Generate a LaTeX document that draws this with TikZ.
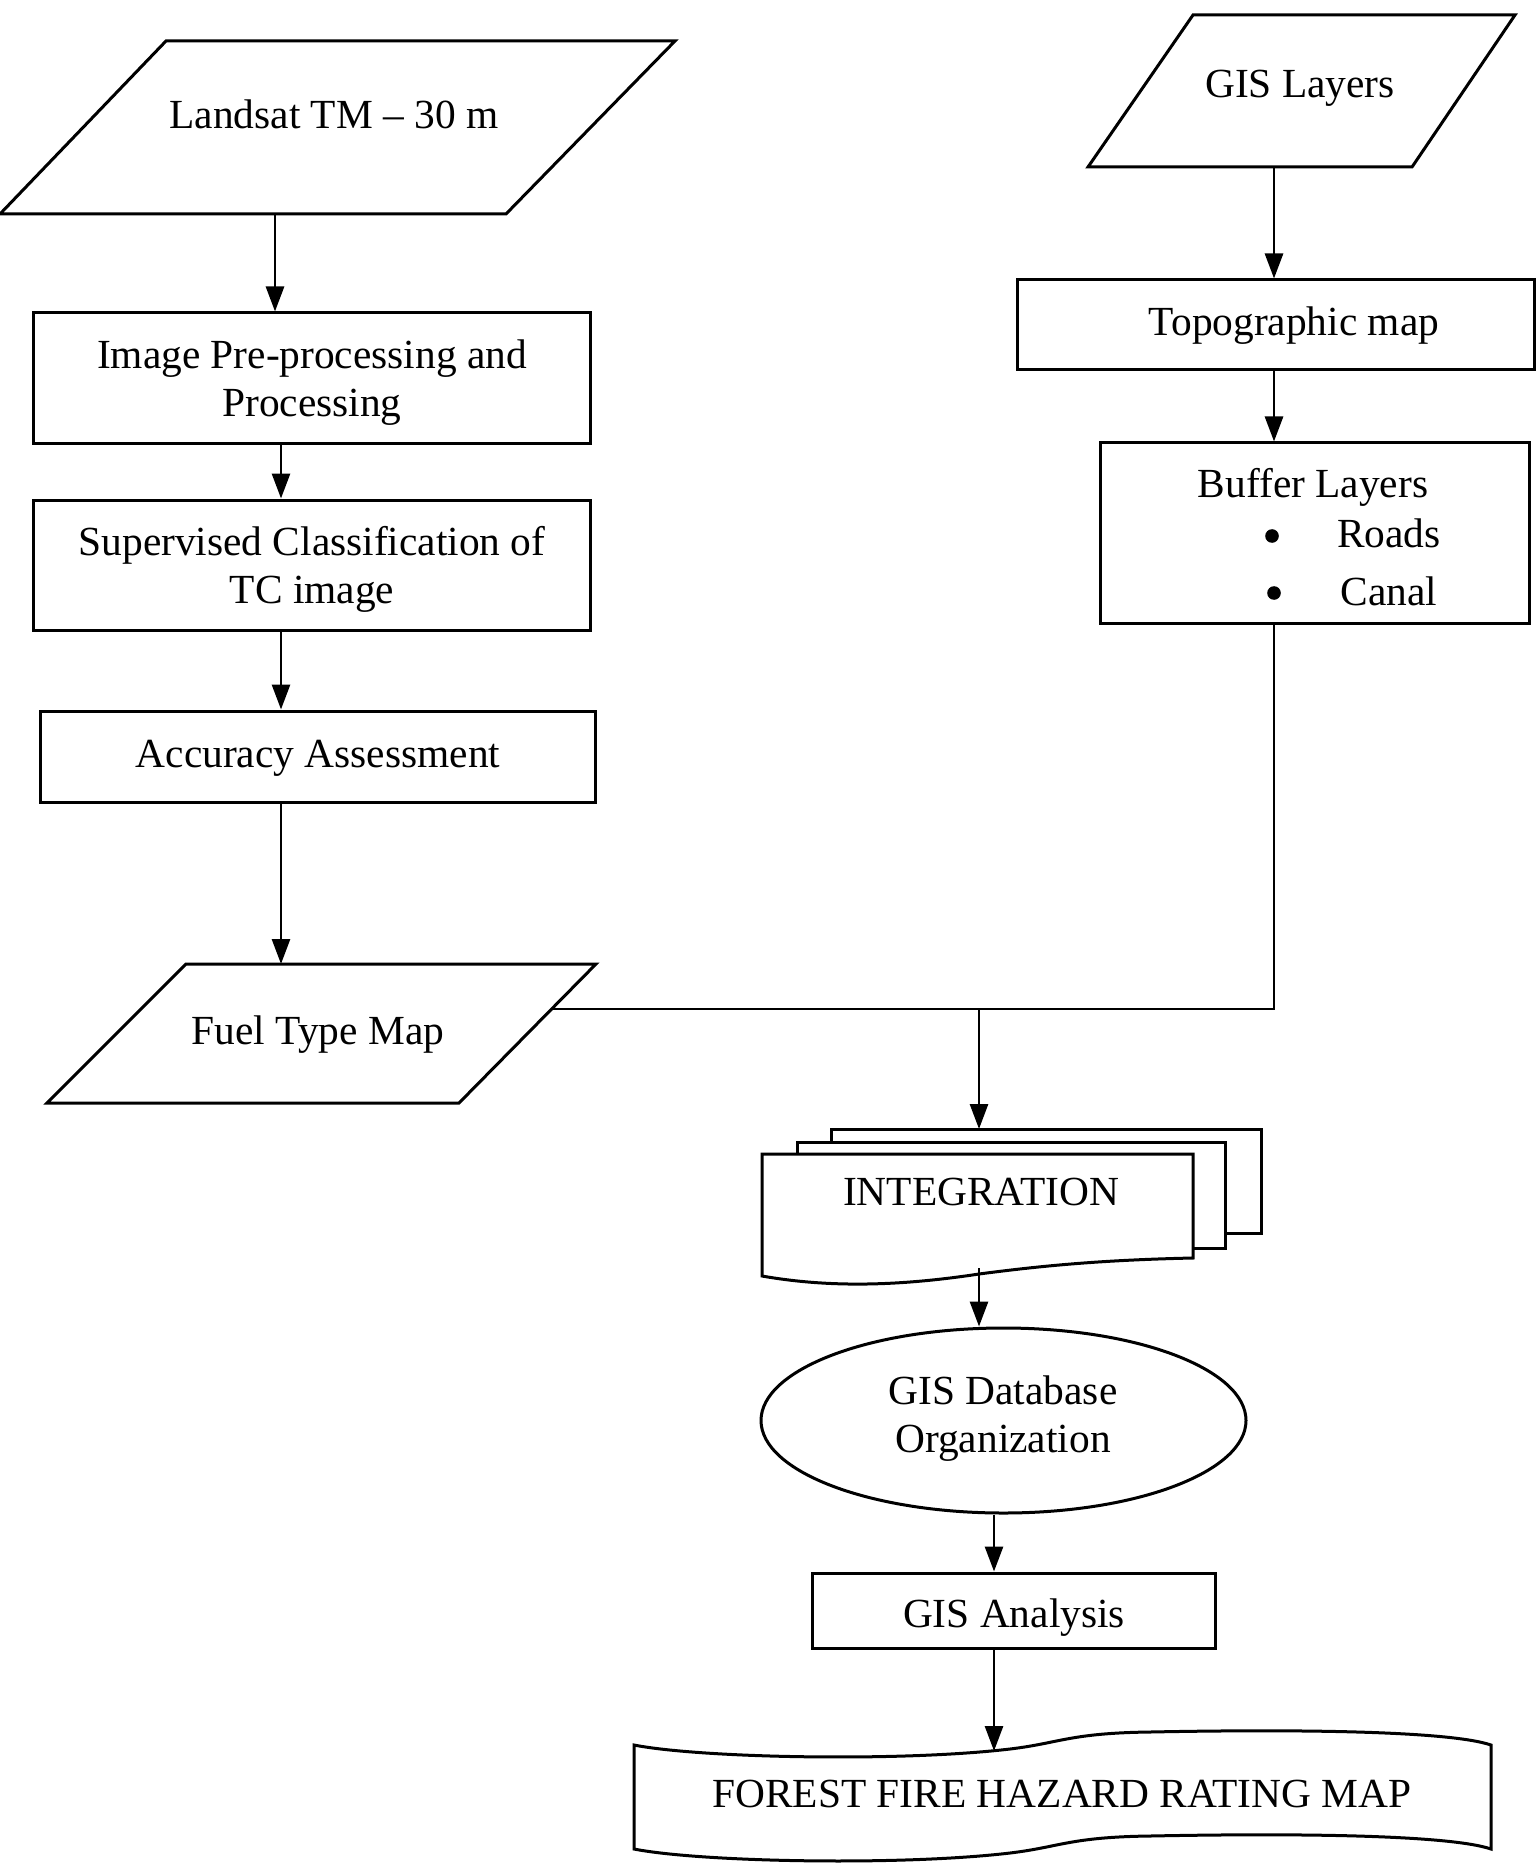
\documentclass[tikz,border=0pt]{standalone}
\usepackage{fontspec}
\setmainfont{Liberation Serif}
\usetikzlibrary{arrows.meta,shapes.geometric}
\begin{document}
\begin{tikzpicture}[x=0.5pt,y=-0.5pt,
  shp/.style={draw, line width=1.5pt, fill=white, line join=miter},
  txt/.style={font=\fontsize{20.7}{24}\selectfont, align=center, inner sep=0pt},
  btxt/.style={txt, anchor=base},
  box/.style={draw, line width=1.5pt, rectangle, inner sep=0pt},
  arr/.style={-{Triangle[length=12.5pt,width=9pt]}, line width=1.4pt},
  ln/.style={line width=1.4pt}]
\useasboundingbox (0,0) rectangle (1537,1866);

% ---- left column ----
\draw[shp] (166,41) -- (675,41) -- (506,214) -- (0,214) -- cycle;
\node[btxt] (landsat) at (334,129) {Landsat TM – 30 m};
\coordinate (landsatB) at (275,214);

\node[box, minimum width=278.5pt, minimum height=65.5pt] (prep) at (311.5,378.5) {};
\node[txt] (prepT) at (312,382.5) {Image Pre-processing and\\Processing};
\node[box, minimum width=278.5pt, minimum height=65pt] (sup) at (311.5,565) {};
\node[txt] (supT) at (312,569) {Supervised Classification of\\TC image};
\node[box, minimum width=277.5pt, minimum height=45.5pt] (acc) at (317.5,756.5) {};
\node[txt] (accT) at (318,758) {Accuracy Assessment};

\draw[shp] (186,964) -- (596,964) -- (459,1103) -- (47,1103) -- cycle;
\node[btxt] (fuel) at (318,1044) {Fuel Type Map};
\coordinate (fuelTop) at (281,964);
\coordinate (fuelR) at (552,1009);

% ---- right column ----
\draw[shp] (1193,15) -- (1515,15) -- (1412,167) -- (1088,167) -- cycle;
\node[btxt] (gis) at (1300,98) {GIS Layers};
\coordinate (gisB) at (1274,167);

\node[box, minimum width=258.5pt, minimum height=45pt] (topo) at (1275.5,325) {};
\node[txt] (topoT) at (1294,326) {Topographic map};

\node[box, minimum width=214.5pt, minimum height=90pt] (buf) at (1314.5,533) {};
\node[btxt] (bufT) at (1313,497) {Buffer Layers};
\fill (1272,536) circle[radius=3.4pt];
\fill (1274,593) circle[radius=3.4pt];
\node[btxt] (roads) at (1389,547) {Roads};
\node[btxt] (canal) at (1389,605) {Canal};

% ---- integration (multi-document) ----
\draw[shp] (831,1129) rectangle (1261,1233);
\draw[shp] (797,1142) rectangle (1225,1248);
\draw[shp] (762,1154) -- (1193,1154) -- (1193,1258)
   .. controls (1100,1260) and (1040,1266) .. (979,1274)
   .. controls (900,1286) and (830,1288) .. (762,1276) -- cycle;
\node[btxt] (integ) at (981,1205) {INTEGRATION};
\coordinate (junc) at (979,1009);
\coordinate (intTop) at (979,1129);
\coordinate (intB) at (979,1268);

% ---- database ellipse ----
\node[draw, ellipse, line width=1.5pt, minimum width=242.5pt, minimum height=92.5pt, inner sep=0pt] (gisdb) at (1003.5,1420.5) {};
\node[txt] (gisdbT) at (1003,1419) {GIS Database\\Organization};

\node[box, minimum width=201.5pt, minimum height=37.5pt] (ana) at (1013.5,1610.5) {};
\node[txt] (anaT) at (1014,1618) {GIS Analysis};

% ---- final output (tape) ----
\draw[shp] (634,1745)
   .. controls (700,1758) and (900,1762) .. (1010,1749)
   .. controls (1060,1743) and (1070,1733) .. (1150,1732)
   .. controls (1300,1729) and (1450,1731) .. (1491,1745)
   -- (1491,1849)
   .. controls (1450,1835) and (1300,1833) .. (1150,1836)
   .. controls (1070,1837) and (1060,1847) .. (1010,1853)
   .. controls (900,1866) and (700,1862) .. (634,1849) -- cycle;
\node[btxt] (forest) at (1062,1807) {FOREST FIRE HAZARD RATING MAP};
\coordinate (forestTop) at (994,1751);

% ---- connectors ----
\coordinate (c1) at (275,0);
\coordinate (c2) at (281,0);
\coordinate (c3) at (994,0);
\draw[arr] (landsatB) -- (c1 |- prep.north);
\draw[arr] (c2 |- prep.south) -- (c2 |- sup.north);
\draw[arr] (c2 |- sup.south) -- (c2 |- acc.north);
\draw[arr] (c2 |- acc.south) -- (fuelTop);
\draw[arr] (gisB) -- (gisB |- topo.north);
\draw[arr] (gisB |- topo.south) -- (gisB |- buf.north);
\draw[ln] (fuelR) -- (fuelR -| gisB) -- (gisB |- buf.south);
\draw[arr] (junc) -- (intTop);
\draw[arr] (intB) -- (intB |- gisdb.north);
\draw[arr] (c3 |- gisdb.south) -- (c3 |- ana.north);
\draw[arr] (c3 |- ana.south) -- (forestTop);
\end{tikzpicture}
\end{document}
